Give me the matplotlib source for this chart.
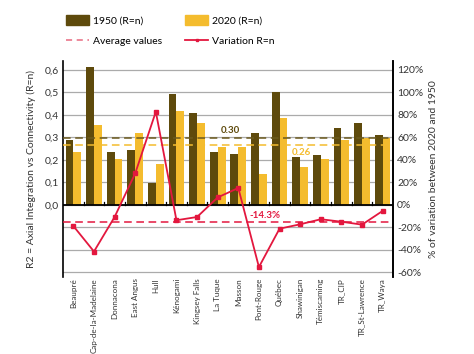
import matplotlib.pyplot as plt
import matplotlib.ticker as ticker
from matplotlib.patches import Patch
from matplotlib.lines import Line2D
import numpy as np

# ── Data ──────────────────────────────────────────────────────────────────────
towns = ["Beaupré", "Cap-de-la-Madelaine", "Donnacona", "East Angus", "Hull",
         "Kénogami", "Kingsey Falls", "La Tuque", "Masson", "Pont-Rouge",
         "Québec", "Shawinigan", "Témiscaming", "TR_CIP", "TR_St-Lawrence",
         "TR_Waya"]
r_1950 = [0.287, 0.611, 0.235, 0.245, 0.096, 0.492, 0.407, 0.235, 0.224,
          0.321, 0.502, 0.212, 0.223, 0.342, 0.363, 0.309]
r_2020 = [0.233, 0.353, 0.202, 0.321, 0.181, 0.417, 0.363, 0.256, 0.256,
          0.138, 0.384, 0.170, 0.202, 0.288, 0.299, 0.299]
variation = [-18.8, -41.5, -10.8, 28.0, 82.8, -13.7, -10.8, 6.6, 15.0,
             -55.3, -21.2, -17.3, -12.8, -15.0, -17.6, -5.4]
avg_1950, avg_2020, avg_var = 0.297, 0.266, -15.2
avg_labels = ["0.30", "0.26", "-14.3%"]

# ── Style ─────────────────────────────────────────────────────────────────────
plt.rcParams.update({
    "font.family": "Lato",
    "font.size": 7,
    "axes.linewidth": 1.2,
})

C_1950 = "#5E4A0C"
C_2020 = "#F4BC2E"
C_VAR = "#E3173E"
C_TXT = "#333333"
C_GRID = "#ABABAB"

fig = plt.figure(figsize=(4.74, 3.54), dpi=100)
ax = fig.add_axes([0.133, 0.218, 0.696, 0.61])
x = np.arange(len(towns))
w = 0.38

ax.set_xlim(-0.5, len(towns) - 0.5)
ax.set_ylim(-0.32, 0.64)
yt = np.round(np.arange(-0.3, 0.61, 0.1), 2)
ax.set_yticks(yt)
for v in yt:
    ax.axhline(v, color=C_GRID, lw=0.9, zorder=0)

ax.bar(x - w / 2, r_1950, w, color=C_1950, zorder=2)
ax.bar(x + w / 2, r_2020, w, color=C_2020, zorder=2)
ax.axhline(avg_1950, color="#6B5A1E", ls=(0, (5, 3)), lw=1.1, zorder=3)
ax.axhline(avg_2020, color=C_2020, ls=(0, (5, 3)), lw=1.1, zorder=3)
ax.axhline(0, color="black", lw=1.3, zorder=4)

# small ticks at category boundaries on the zero line
for b in x[1:] - 0.5:
    ax.plot([b, b], [0, 0.012], color="black", lw=0.9, zorder=4)

ax.text(7.6, avg_1950 + 0.012, avg_labels[0], color="#5E4A0C",
        ha="center", va="bottom", fontsize=7, fontweight="bold", zorder=5)
ax.text(11.05, avg_2020 - 0.012, avg_labels[1], color=C_2020,
        ha="center", va="top", fontsize=7, fontweight="bold", zorder=5)

ax.yaxis.set_major_formatter(ticker.FuncFormatter(
    lambda v, p: "" if v < -0.01 else f"{v:.1f}".replace(".", ",")))
ax.set_xticks([])
ax.tick_params(axis="y", length=0, pad=3, labelcolor=C_TXT, labelsize=7.5)
for s in ["top", "bottom"]:
    ax.spines[s].set_visible(False)
ax.set_ylabel("R2 = Axial Integration vs Connectivity (R=n)", color=C_TXT,
              fontsize=7.5, labelpad=6)

# category labels under the plot
for xi, name in zip(x, towns):
    ax.text(xi, -0.325, name, rotation=90, ha="center", va="top",
            fontsize=5.8, color=C_TXT)

# ── Variation on secondary axis ───────────────────────────────────────────────
ax2 = ax.twinx()
ax2.plot(x, variation, color=C_VAR, lw=1.3, marker="s", markersize=3.5,
         zorder=5)
ax2.axhline(avg_var, color=C_VAR, ls=(0, (5, 3)), lw=1.1)
ax2.text(9.3, avg_var + 1.5, avg_labels[2], color=C_VAR, ha="center",
         va="bottom", fontsize=7, fontweight="bold")
ax2.set_ylim(-64, 128)
ax2.set_yticks(np.arange(-60, 121, 20))
ax2.yaxis.set_major_formatter(ticker.FuncFormatter(lambda v, p: f"{v:.0f}%"))
ax2.tick_params(axis="y", length=0, pad=3, labelcolor=C_TXT, labelsize=7.5)
for s in ["top", "bottom", "left"]:
    ax2.spines[s].set_visible(False)
ax2.set_ylabel("% of variation between 2020 and 1950", color=C_TXT,
               fontsize=7.5, labelpad=4)

# ── Legend ────────────────────────────────────────────────────────────────────
handles = [Patch(color=C_1950),
           Line2D([], [], color="#E86A80", ls=(0, (4, 3)), lw=1.1),
           Patch(color=C_2020),
           Line2D([], [], color=C_VAR, lw=1.3, marker="s", markersize=2)]
labels = ["1950 (R=n)", "Average values", "2020 (R=n)", "Variation R=n"]
fig.legend(handles, labels, ncol=2, loc="upper left",
           bbox_to_anchor=(0.12, 0.985), frameon=False, fontsize=7.5,
           handlelength=2.2, handleheight=1.1, columnspacing=2.2,
           labelspacing=1.0, handletextpad=0.4)

fig.savefig("out.png", dpi=100)
